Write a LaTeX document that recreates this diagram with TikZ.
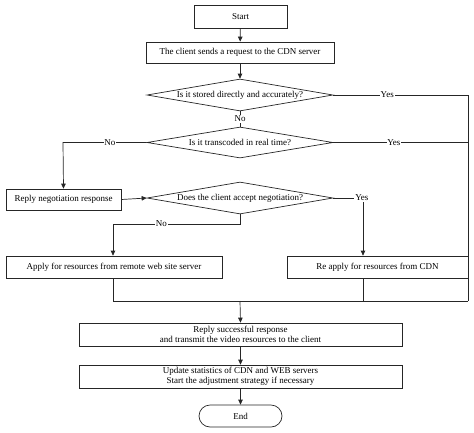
\documentclass[tikz,border=0pt]{standalone}
\usepackage{fontspec}
\setmainfont{Liberation Serif}
\usetikzlibrary{arrows.meta,shapes.geometric}
\begin{document}
\begin{tikzpicture}[x=1pt,y=-1pt,
  every node/.style={font=\fontsize{9}{10}\selectfont},
  line/.style={draw=black!85, line width=0.7pt},
  arr/.style={line, -{Triangle[length=5pt,width=4.5pt]}},
  box/.style={draw=black!85, line width=0.7pt, rectangle, inner sep=0pt, align=center},
  dia/.style={draw=black!85, line width=0.7pt, diamond, inner sep=0pt, shape aspect=5.8, minimum width=186pt, minimum height=32pt},
  lab/.style={fill=white, inner sep=0.8pt, font=\fontsize{9}{10}\selectfont}
]
\useasboundingbox (0,0) rectangle (474,432);

\node[box, minimum width=93pt, minimum height=23pt] (start) at (240.5,16.5) {Start};
\node[box, minimum width=188pt, minimum height=21pt] (client) at (240,52.5) {The client sends a request to the CDN server};
\node[dia] (d1) at (240,95) {Is it stored directly and accurately?};
\node[dia, minimum height=31pt] (d2) at (240,142.5) {Is it transcoded in real time?};
\node[box, minimum width=115pt, minimum height=21pt] (reply) at (63.5,199.5) {Reply negotiation response};
\node[dia] (d3) at (240,198) {Does the client accept negotiation?};
\node[box, minimum width=216pt, minimum height=22pt] (apply) at (114,267) {Apply for resources from remote web site server};
\node[box, minimum width=181pt, minimum height=22pt] (reapply) at (377.5,267) {Re apply for resources from CDN};
\node[box, minimum width=323pt, minimum height=23pt] (succ) at (240.5,334.5) {Reply successful response\\and transmit the video resources to the client};
\node[box, minimum width=323pt, minimum height=23pt] (upd) at (240.5,376.5) {Update statistics of CDN and WEB servers\\Start the adjustment strategy if necessary};
\node[box, minimum width=83pt, minimum height=22pt, rounded corners=11pt] (end) at (240.5,416) {End};

\coordinate (r1) at (468,95);
\coordinate (r2) at (468,142.5);
\coordinate (rb) at (468,301);
\coordinate (l2) at (63,142.5);
\coordinate (nb) at (240,224);
\coordinate (ab) at (113,301);
\coordinate (rab) at (363,301);
\coordinate (j) at (240,301);

\draw[arr] (start) -- (client);
\draw[arr] (client) -- (d1);
\draw[line] (d1.south) -- node[lab] {No} (d2.north);
\draw[line] (d1.east) -- node[lab, pos=0.4] {Yes} (r1) -- (rb);
\draw[line] (d2.east) -- node[lab, pos=0.45] {Yes} (r2);
\draw[arr] (d2.west) -- node[lab, pos=0.44] {No} (l2) -- (reply.north);
\draw[arr] (reply.east) -- (d3.west);
\draw[arr] (d3.east) -| node[lab, pos=0.48] {Yes} (reapply.north -| rab);
\draw[arr] (d3.south) -- (nb) -| node[lab, pos=0.31] {No} (apply.north -| ab);
\draw[line] (apply.south -| ab) -- (ab) -- (rb);
\draw[line] (reapply.south -| rab) -- (rab);
\draw[arr] (j) -- (succ.north);
\draw[arr] (succ) -- (upd);
\draw[arr] (upd) -- (end);
\end{tikzpicture}
\end{document}
